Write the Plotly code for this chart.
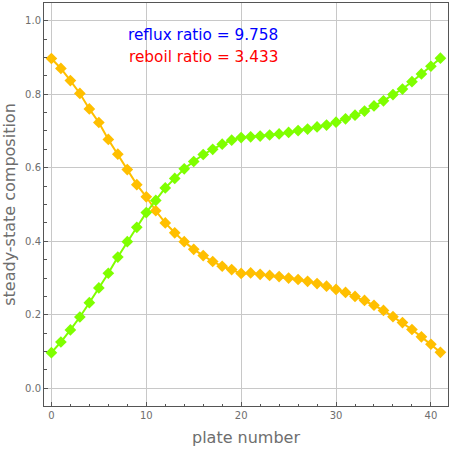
import plotly.graph_objects as go

plates = list(range(42))
green_x = [0.097, 0.126, 0.159, 0.194, 0.233, 0.273, 0.313, 0.357, 0.399, 0.438,
           0.478, 0.511, 0.545, 0.571, 0.597, 0.617, 0.636, 0.650, 0.664, 0.675,
           0.682, 0.684, 0.686, 0.689, 0.692, 0.696, 0.701, 0.705, 0.711, 0.716,
           0.724, 0.733, 0.743, 0.754, 0.768, 0.782, 0.799, 0.814, 0.834, 0.855,
           0.876, 0.898]
orange_y = [0.897, 0.870, 0.837, 0.802, 0.760, 0.723, 0.677, 0.637, 0.595, 0.554,
            0.521, 0.483, 0.450, 0.423, 0.399, 0.378, 0.361, 0.345, 0.332, 0.323,
            0.3125, 0.314, 0.310, 0.307, 0.304, 0.300, 0.296, 0.291, 0.285, 0.278,
            0.269, 0.261, 0.250, 0.239, 0.226, 0.212, 0.195, 0.179, 0.160, 0.140,
            0.120, 0.098]
reflux_text = "reflux ratio = 9.758"
reboil_text = "reboil ratio = 3.433"

FONT = "DejaVu Sans"
GRAY = "#6e6e6e"

fig = go.Figure()
fig.add_trace(go.Scatter(x=plates, y=orange_y, mode="lines+markers",
                         line=dict(color="#FFBF00", width=2),
                         marker=dict(symbol="diamond", size=9, color="#FFBF00")))
fig.add_trace(go.Scatter(x=plates, y=green_x, mode="lines+markers",
                         line=dict(color="#7FFF00", width=2),
                         marker=dict(symbol="diamond", size=9, color="#7FFF00")))

axis_common = dict(showline=True, mirror=True, linecolor="#555555", linewidth=1,
                   showgrid=True, gridcolor="#c8c8c8", gridwidth=1, zeroline=False,
                   ticks="inside", ticklen=4, tickcolor="#555555", automargin=False,
                   tickfont=dict(family=FONT, size=10, color=GRAY))

fig.update_xaxes(range=[-0.78, 41.8], tick0=0, dtick=10,
                 minor=dict(ticks="inside", ticklen=2.5, dtick=2, tickcolor="#555555", showgrid=False),
                 title=dict(text="plate number", font=dict(family=FONT, size=16, color=GRAY), standoff=11),
                 **axis_common)
fig.update_yaxes(range=[-0.048, 1.048], tick0=0, dtick=0.2, tickformat=".1f",
                 minor=dict(ticks="inside", ticklen=2.5, dtick=0.05, tickcolor="#555555", showgrid=False),
                 title=dict(text="steady-state composition", font=dict(family=FONT, size=16, color=GRAY), standoff=6),
                 **axis_common)

fig.add_annotation(x=0.3936, y=0.9206, xref="paper", yref="paper", text=reflux_text,
                   xanchor="center", yanchor="middle",
                   showarrow=False, font=dict(family=FONT, size=15.3, color="#0000FF"))
fig.add_annotation(x=0.3936, y=0.866, xref="paper", yref="paper", text=reboil_text,
                   xanchor="center", yanchor="middle",
                   showarrow=False, font=dict(family=FONT, size=15.3, color="#FF0000"))

fig.update_layout(width=450, height=450, showlegend=False,
                  plot_bgcolor="white", paper_bgcolor="white",
                  margin=dict(l=44, r=2, t=3, b=44))
fig.write_html("out.html", config={"displayModeBar": False},
               post_script="document.body.style.margin='0';")
